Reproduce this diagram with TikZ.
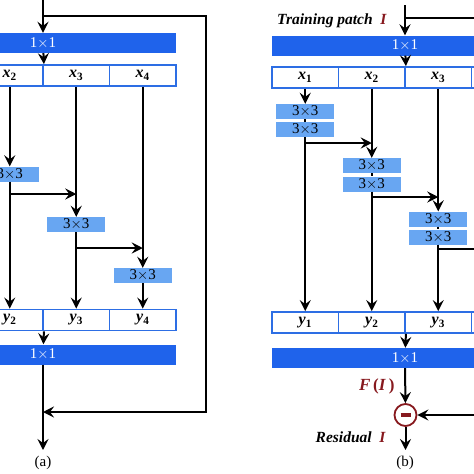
\documentclass[tikz,border=0pt]{standalone}
\usepackage{fontspec}
\setmainfont{Liberation Serif}
\usetikzlibrary{arrows.meta}
\definecolor{convblue}{RGB}{31,99,235}
\definecolor{boxblue}{RGB}{104,166,242}
\definecolor{cellblue}{RGB}{45,110,228}
\definecolor{resred}{RGB}{135,25,30}
\newcommand{\bv}[2]{{\bfseries\itshape #1}\textsubscript{\bfseries #2}}

\begin{document}
\begin{tikzpicture}[x=1pt,y=-1pt,
	conv/.style={fill=convblue, text=white, minimum width=266pt, minimum height=20pt, inner sep=0pt, font=\fontsize{15}{17}\selectfont},
	cell/.style={draw=cellblue, line width=1.8pt, fill=white, minimum width=66.5pt, minimum height=21pt, inner sep=0pt, font=\fontsize{16}{18}\selectfont},
	sconv/.style={fill=boxblue, minimum width=58pt, minimum height=15pt, inner sep=0pt, font=\fontsize{15}{17}\selectfont},
	arr/.style={-{Stealth[length=11pt,width=11pt,inset=4pt]}, line width=2pt},
	wire/.style={line width=2pt}]
	\useasboundingbox (0,0) rectangle (474,474);
	\clip (0,0) rectangle (474,474);

	% ---------- (a) ----------
	\node[conv] (conv1a) at (43,43) {1$\times$1};
	\node[cell] (x2a) at (9.75,75.5) {\bv{x}{2}};
	\node[cell] (x3a) at (76.25,75.5) {\bv{x}{3}};
	\node[cell] (x4a) at (142.75,75.5) {\bv{x}{4}};
	\node[sconv] (c1a) at (9.75,174) {3$\times$3};
	\node[sconv] (c2a) at (76.25,224.5) {3$\times$3};
	\node[sconv] (c3a) at (142.75,275.5) {3$\times$3};
	\node[cell] (y2a) at (9.75,320) {\bv{y}{2}};
	\node[cell] (y3a) at (76.25,320) {\bv{y}{3}};
	\node[cell] (y4a) at (142.75,320) {\bv{y}{4}};
	\node[conv] (conv2a) at (43,354.5) {1$\times$1};
	\node[font=\fontsize{15}{17}\selectfont] (laba) at (43,463) {(a)};
	\coordinate (ina) at (43,0);
	\coordinate (skipa) at (43,16);
	\coordinate (ra) at (206,16);
	\coordinate (joina) at (43,412);
	\coordinate (outa) at (43,450);
	\coordinate (s1a) at (9.75,194);
	\coordinate (t1a) at (76.25,194);
	\coordinate (s2a) at (76.25,248);
	\coordinate (t2a) at (142.75,248);
	% input and skip
	\draw[arr] (ina) -- (conv1a);
	\draw[arr] (skipa) -- (ra) |- (joina);
	\draw[arr] (conv1a) -- (x2a.north east);
	% branches
	\draw[arr] (x2a) -- (c1a);
	\draw[arr] (c1a) -- (y2a);
	\draw[arr] (s1a) -- (t1a);
	\draw[arr] (x3a) -- (c2a);
	\draw[arr] (c2a) -- (y3a);
	\draw[arr] (s2a) -- (t2a);
	\draw[arr] (x4a) -- (c3a);
	\draw[arr] (c3a) -- (y4a);
	% output
	\draw[arr] (y2a.south east) -- (conv2a);
	\draw[arr] (conv2a) -- (outa);

	% ---------- (b) ----------
	\node[conv] (conv1b) at (405,45.5) {1$\times$1};
	\node[cell] (x1b) at (305.25,77.5) {\bv{x}{1}};
	\node[cell] (x2b) at (371.75,77.5) {\bv{x}{2}};
	\node[cell] (x3b) at (438.25,77.5) {\bv{x}{3}};
	\node[cell] (x4b) at (504.75,77.5) {};
	\node[sconv] (c1b) at (305.25,111.5) {3$\times$3};
	\node[sconv] (d1b) at (305.25,129.5) {3$\times$3};
	\node[sconv] (c2b) at (371.75,165.5) {3$\times$3};
	\node[sconv] (d2b) at (371.75,184) {3$\times$3};
	\node[sconv] (c3b) at (438.25,219) {3$\times$3};
	\node[sconv] (d3b) at (438.25,237) {3$\times$3};
	\node[cell] (y1b) at (305.25,322.5) {\bv{y}{1}};
	\node[cell] (y2b) at (371.75,322.5) {\bv{y}{2}};
	\node[cell] (y3b) at (438.25,322.5) {\bv{y}{3}};
	\node[cell] (y4b) at (504.75,322.5) {};
	\node[conv] (conv2b) at (405,358) {1$\times$1};
	\node[circle, draw=resred, line width=1.8pt, minimum size=22pt, inner sep=0pt] (minus) at (405.5,415) {\textcolor{resred}{\rule{10pt}{4pt}}};
	% labels
	\node[anchor=east, font=\fontsize{15.5}{17}\selectfont\bfseries\itshape] (train) at (390,21) {Training patch\ \ \textcolor{resred}{I}};
	\node[anchor=east, text=resred, font=\fontsize{17}{19}\selectfont\bfseries] (fi) at (398,386) {\textit{F}\,(\textit{I}\,)};
	\node[anchor=east, font=\fontsize{15.5}{17}\selectfont\bfseries\itshape] (resid) at (389,437) {Residual\ \ \textcolor{resred}{I}};
	\node[font=\fontsize{15}{17}\selectfont] (labb) at (405,463) {(b)};
	\coordinate (inb) at (405,5);
	\coordinate (skipb) at (405,18);
	\coordinate (rb) at (560,18);
	\coordinate (outb) at (405.5,450);
	\coordinate (s1b) at (305.25,143);
	\coordinate (t1b) at (371.75,143);
	\coordinate (s2b) at (371.75,197);
	\coordinate (t2b) at (438.25,197);
	\coordinate (s3b) at (438.25,249);
	\coordinate (t3b) at (504.75,249);
	% input and skip
	\draw[arr] (inb) -- (conv1b);
	\draw[arr] (skipb) -- (rb) |- (minus.east);
	\draw[arr] (conv1b) -- (x2b.north east);
	% branches
	\draw[arr] (x1b) -- (c1b);
	\draw[wire] (c1b) -- (d1b);
	\draw[arr] (d1b) -- (y1b);
	\draw[arr] (s1b) -- (t1b);
	\draw[arr] (x2b) -- (c2b);
	\draw[wire] (c2b) -- (d2b);
	\draw[arr] (d2b) -- (y2b);
	\draw[arr] (s2b) -- (t2b);
	\draw[arr] (x3b) -- (c3b);
	\draw[wire] (c3b) -- (d3b);
	\draw[arr] (d3b) -- (y3b);
	\draw[arr] (s3b) -- (t3b);
	% output
	\draw[arr] (y2b.south east) -- (conv2b);
	\draw[arr] (conv2b) -- (minus);
	\draw[arr] (minus) -- (outb);
\end{tikzpicture}
\end{document}
